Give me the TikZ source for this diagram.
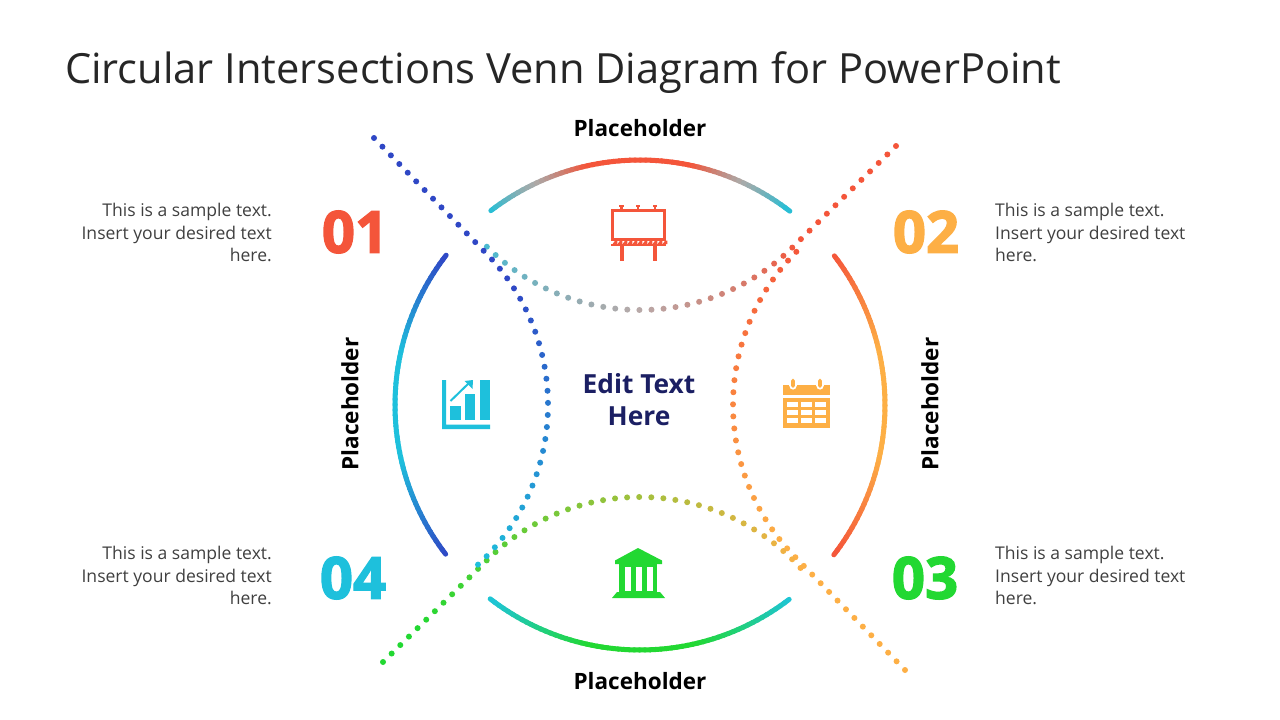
\documentclass[tikz,border=0pt]{standalone}
\usepackage{fontspec}
\setmainfont{Open Sans}
\definecolor{cred}{HTML}{F4553A}
\definecolor{ccy}{HTML}{22C0D8}
\definecolor{cdot}{HTML}{45BBD3}
\definecolor{cblue}{HTML}{2F47C5}
\definecolor{csky}{HTML}{1EC0DC}
\definecolor{corg}{HTML}{FDAF45}
\definecolor{cgrn}{HTML}{22D832}
\definecolor{cteal}{HTML}{1EC4D8}
\definecolor{ctxt}{HTML}{404040}
\definecolor{cnavy}{HTML}{1B1F63}
\def\whit{0}
% #1 Sx,#2 Sy,#3 Cx,#4 Cy,#5 R,#6 a0,#7 a1,#8 c1,#9 c2; t1 in \tone
\newcommand\dotcurve[9]{%
  \pgfmathsetmacro\Tx{#3+#5*cos(#6)}%
  \pgfmathsetmacro\Ty{#4+#5*sin(#6)}%
  \pgfmathsetmacro\Ll{veclen(\Tx-#1,\Ty-#2)}%
  \pgfmathsetmacro\Aa{#5*(abs(#7-#6)/180)*pi}%
  \pgfmathsetmacro\Tot{\Ll+\Aa}%
  \pgfmathtruncatemacro\Nn{floor(\Tot/12.1)}%
  \foreach \i in {0,...,\Nn}{%
    \pgfmathsetmacro\ss{\i*12.1}%
    \pgfmathsetmacro\lam{min(\ss/\Ll,1)}%
    \pgfmathsetmacro\ang{#6+(#7-#6)*(max(\ss-\Ll,0)/\Aa)}%
    \pgfmathsetmacro\px{\ss<\Ll ? #1+(\Tx-#1)*\lam : #3+#5*cos(\ang)}%
    \pgfmathsetmacro\py{\ss<\Ll ? #2+(\Ty-#2)*\lam : #4+#5*sin(\ang)}%
    \pgfmathsetmacro\pc{100*max(min((\ss/\Tot-\tone)/(1-\tone),1),0)}%
    \pgfmathsetmacro\ww{100-\whit*(1-abs(\pc-50)/50)}%
    \fill[#9!\pc!#8!\ww!white] (\px,\py) circle (3);
  }%
}
% #1 mid angle, #2 end colour, #3 mid colour
\newcommand\gradarc[3]{%
  \foreach \i in {-30,...,29}{%
    \pgfmathsetmacro\aa{#1+\i*37.5/30}%
    \pgfmathsetmacro\ab{#1+(\i+1)*37.5/30+0.2}%
    \pgfmathsetmacro\pc{min(100,150*(1-abs(\i+0.5)/30))}%
    \pgfmathsetmacro\ww{100-\whit*(1-abs(\pc-50)/50)}%
    \pgfmathsetmacro\xa{640+245*cos(\aa)}%
    \pgfmathsetmacro\ya{405+245*sin(\aa)}%
    \pgfmathsetmacro\xb{640+245*cos(\ab)}%
    \pgfmathsetmacro\yb{405+245*sin(\ab)}%
    \draw[line width=5,line cap=round,#3!\pc!#2!\ww!white] (\xa,\ya) -- (\xb,\yb);
  }%
}
\tikzset{
  titletext/.style={anchor=base west,font=\fontsize{41.6}{50}\selectfont,text=black!85},
  bodyl/.style={align=right,anchor=north east,inner sep=0,font=\fontsize{17.55}{22.6}\selectfont,text=ctxt},
  bodyr/.style={align=left,anchor=north west,inner sep=0,font=\fontsize{17.55}{22.6}\selectfont,text=ctxt},
  ph/.style={inner sep=0,font=\fontsize{22.5}{28}\selectfont\bfseries,text=black},
  numtext/.style={inner sep=0,font=\fontsize{58}{60}\selectfont\bfseries\addfontfeature{FakeBold=2.4}},
}
\begin{document}
\begin{tikzpicture}[x=1pt,y=-1pt]
\useasboundingbox (0,0) rectangle (1280,720);
\fill[white] (0,0) rectangle (1280,720);
\node[titletext] (title) at (61.5,83) {Circular Intersections Venn Diagram for PowerPoint};
% solid arcs
\def\whit{28}
\gradarc{270}{ccy}{cred}
\def\whit{0}
\gradarc{0}{cred}{corg}
\gradarc{90}{cteal}{cgrn}
\gradarc{180}{cblue}{csky}
% dotted curves
\def\whit{28}
\def\tone{0.28}
\dotcurve{896}{146}{640}{93}{217}{46.3}{137}{cred}{cdot}
\def\whit{0}
\def\tone{0.35}
\dotcurve{905}{670}{950}{405}{217}{136.3}{227}{corg}{cred}
\def\tone{0.1}
\dotcurve{383}{662}{640}{714}{217}{226.3}{319}{cgrn}{corg}
\def\tone{0.4}
\dotcurve{374}{138}{331}{405}{217}{-43.7}{48}{cblue}{csky}
% texts
\node[bodyl] (t1) at (272,203) {This is a sample text.\\Insert your desired text\\here.};
\node[bodyl] (t4) at (272,546) {This is a sample text.\\Insert your desired text\\here.};
\node[bodyr] (t2) at (995,203) {This is a sample text.\\Insert your desired text\\here.};
\node[bodyr] (t3) at (995,546) {This is a sample text.\\Insert your desired text\\here.};
\node[numtext,text=cred] (n1) at (355,232) {01};
\node[numtext,text=corg] (n2) at (926,232) {02};
\node[numtext,text=cgrn] (n3) at (925,578) {03};
\node[numtext,text=csky] (n4) at (353,578) {04};
\node[ph] (p1) at (640,128) {Placeholder};
\node[ph] (p3) at (640,681) {Placeholder};
\node[ph,rotate=90] (p4) at (350,404) {Placeholder};
\node[ph,rotate=90] (p2) at (930,404) {Placeholder};
\node[align=center,inner sep=0,text=cnavy,font=\fontsize{26.3}{32}\selectfont\bfseries] (c) at (639,400) {Edit Text\\Here};
% billboard
\draw[cred,line width=2.6] (612.3,210.3) rectangle (664.7,239.5);
\foreach \x in {621.5,638,655}{
  \fill[cred] (\x-1.2,206) rectangle (\x+1.2,210);
  \fill[cred] (\x-2.4,204.5) rectangle (\x+2.4,206.5);
}
\foreach \x in {0,...,10}{
  \fill[cred] (612.5+\x*5,244.2) -- (615.2+\x*5,240.5) -- (617.4+\x*5,240.5) -- (617.4+\x*5,244.2) -- cycle;
}
\fill[cred] (611,244) rectangle (666,246);
\fill[cred] (619.5,245) rectangle (623.5,261);
\fill[cred] (653,245) rectangle (657,261);
% chart
\fill[csky] (442,380) -- (446,380) -- (446,424.5) -- (490,424.5) -- (490,429) -- (442,429) -- cycle;
\fill[csky] (450,406) rectangle (461,420);
\fill[csky] (465,394) rectangle (475,420);
\fill[csky] (480,380) rectangle (490,420);
\draw[csky,line width=2] (450.5,401) -- (469,383);
\fill[csky] (473,380) -- (472.5,389) -- (464.5,381) -- cycle;
% calendar
\fill[corg] (783,385) rectangle (830,395);
\fill[corg] (783,398) rectangle (830,428);
\foreach \x in {793,820}{
  \fill[white] (\x-3.6,379) rectangle (\x+3.6,386);
  \fill[white] (\x,386) circle (3.6);
  \fill[corg] (\x-1.9,380.5) rectangle (\x+1.9,386);
  \fill[corg] (\x,386) circle (1.9);
  \fill[corg] (\x,380.5) circle (1.9);
}
\foreach \x in {787,801,815}{\foreach \y in {402,410,418}{
  \fill[white] (\x,\y) rectangle (\x+11,\y+5);
}}
% bank
\fill[cgrn] (638,548) -- (662,560.5) -- (662,564) -- (615,564) -- (615,560.5) -- cycle;
\fill[cgrn] (619,564) rectangle (657,592);
\foreach \x in {625,636,647}{\fill[white] (\x,567) rectangle (\x+6,590.5);}
\fill[cgrn] (617,592) -- (660,592) -- (665,598) -- (612,598) -- cycle;
\end{tikzpicture}
\end{document}
